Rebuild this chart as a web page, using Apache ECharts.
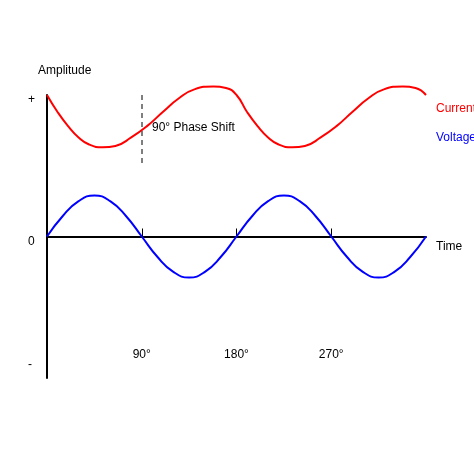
<!DOCTYPE html>
<html><head><meta charset="utf-8">
<script src="https://cdn.jsdelivr.net/npm/echarts@6/dist/echarts.min.js"></script>
<style>html,body{margin:0;padding:0;background:#fff}#c{width:474px;height:474px}</style>
</head><body><div id="c"></div>
<script>
const angles = [0,10,20,30,40,53,65,80,95,110,125,140,158,170,180,190,200,210,220,233,245,260,275,290,305,320,338,350,360];
const current = [1.0,0.88,0.78,0.70,0.65,0.63,0.64,0.70,0.78,0.88,0.975,1.04,1.06,1.05,1.0,0.88,0.78,0.70,0.65,0.63,0.64,0.70,0.78,0.88,0.975,1.04,1.06,1.05,1.0];
const voltAngles = [0,15,30,45,60,75,90,105,120,135,150,165,180,195,210,225,240,255,270,285,300,315,330,345,360];
const voltage = [0,0.145,0.25,0.29,0.25,0.145,0,-0.145,-0.25,-0.29,-0.25,-0.145,0,0.145,0.25,0.29,0.25,0.145,0,-0.145,-0.25,-0.29,-0.25,-0.145,0];
const tickValues = [90,180,270];
const font = 'Liberation Sans, Arial, sans-serif';
const chart = echarts.init(document.getElementById('c'));
chart.setOption({
  animation:false,
  grid:{left:47,right:48,top:95,bottom:96},
  xAxis:{type:'value',min:0,max:360,splitLine:{show:false},
    axisLine:{onZero:true,lineStyle:{color:'#000',width:2}},
    axisTick:{show:true,inside:true,length:8,customValues:tickValues,lineStyle:{color:'#000',width:1}},
    axisLabel:{show:true,inside:false,customValues:tickValues,formatter:v=>v+'°',color:'#000',fontSize:12,fontFamily:font,margin:-29}},
  yAxis:{type:'value',min:-1,max:1,splitLine:{show:false},axisTick:{show:false},axisLabel:{show:false},
    axisLine:{show:true,onZero:true,lineStyle:{color:'#000',width:2}}},
  series:[
    {type:'line',clip:false,data:angles.map((a,i)=>[a,current[i]]),smooth:0.5,symbol:'none',lineStyle:{color:'#ff0000',width:2},
      markLine:{silent:true,symbol:'none',label:{show:false},lineStyle:{color:'#555',type:[5,4],width:1.5},
        data:[[{coord:[90,1.0]},{coord:[90,0.5]}]]}},
    {type:'line',clip:false,data:voltAngles.map((a,i)=>[a,voltage[i]]),smooth:true,symbol:'none',lineStyle:{color:'#0000ff',width:2}}
  ],
  graphic:[
    {type:'text',left:38,top:65,style:{text:'Amplitude',font:'12px '+font,fill:'#000'}},
    {type:'text',left:28,top:94,style:{text:'+',font:'12px '+font,fill:'#000'}},
    {type:'text',left:28,top:236,style:{text:'0',font:'12px '+font,fill:'#000'}},
    {type:'text',left:28,top:359,style:{text:'-',font:'12px '+font,fill:'#000'}},
    {type:'text',left:436,top:241,style:{text:'Time',font:'12px '+font,fill:'#000'}},
    {type:'text',left:436,top:103,style:{text:'Current',font:'12px '+font,fill:'#ff0000'}},
    {type:'text',left:436,top:132,style:{text:'Voltage',font:'12px '+font,fill:'#0000ff'}},
    {type:'text',left:152,top:122,style:{text:'90° Phase Shift',font:'12px '+font,fill:'#000'}}
  ]
});
</script></body></html>
